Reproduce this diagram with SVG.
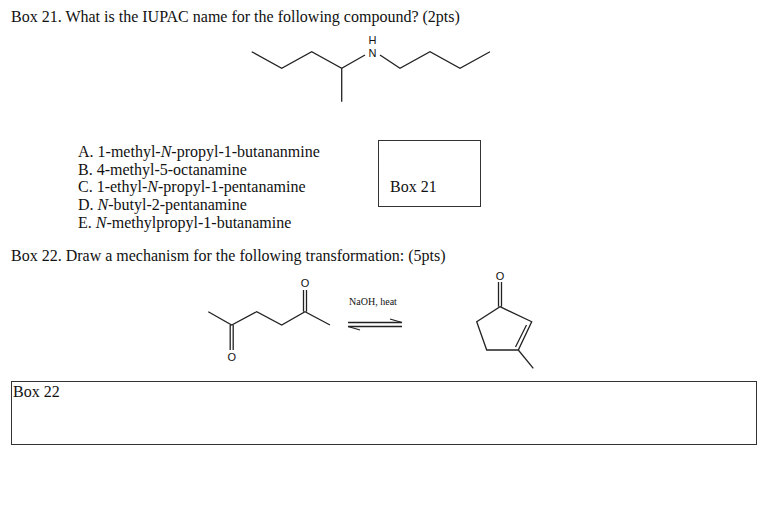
<svg xmlns="http://www.w3.org/2000/svg" width="770" height="516" viewBox="0 0 770 516">
<style>
text{font-family:"Liberation Serif",serif;fill:#111}
.t{font-size:16px}
.s{font-family:"Liberation Sans",Arial,sans-serif;font-size:11px}
.b{fill:none;stroke:#222;stroke-width:1.3}
.box{fill:none;stroke:#333;stroke-width:1}
</style>
<rect width="770" height="516" fill="#fff"/>
<text class="t" x="11" y="22">Box 21. What is the IUPAC name for the following compound? (2pts)</text>
<g id="amine">
<polyline class="b" points="251.7,51.7 281.7,68.3 311.7,51.7 341.7,68.3 365,55"/>
<line class="b" x1="341.7" y1="68.3" x2="341.7" y2="101.7"/>
<polyline class="b" points="380,55 400,68.3 430,51.7 460,68.3 490,51.7"/>
<text class="s" x="372.5" y="57" text-anchor="middle">N</text>
<text class="s" x="372.5" y="44" text-anchor="middle">H</text>
</g>
<g id="options" class="t">
<text x="78" y="157">A.  1-methyl-<tspan font-style="italic">N</tspan>-propyl-1-butananmine</text>
<text x="78" y="175">B.  4-methyl-5-octanamine</text>
<text x="78" y="192">C.  1-ethyl-<tspan font-style="italic">N</tspan>-propyl-1-pentanamine</text>
<text x="78" y="210">D.  <tspan font-style="italic">N</tspan>-butyl-2-pentanamine</text>
<text x="78" y="228">E.  <tspan font-style="italic">N</tspan>-methylpropyl-1-butanamine</text>
</g>
<g id="box21">
<rect class="box" x="378.5" y="140.5" width="102" height="66"/>
<text class="t" x="390" y="192">Box 21</text>
</g>
<text class="t" x="11" y="261">Box 22. Draw a mechanism for the following transformation: (5pts)</text>
<g id="diketone">
<polyline class="b" points="208.3,311.7 231.7,325 256.7,311.7 281.7,325 305,311.7 330,325"/>
<line class="b" x1="230.2" y1="325" x2="230.2" y2="350"/>
<line class="b" x1="233.2" y1="325" x2="233.2" y2="350"/>
<line class="b" x1="303.5" y1="311.7" x2="303.5" y2="290"/>
<line class="b" x1="306.5" y1="311.7" x2="306.5" y2="290"/>
<text class="s" x="231.7" y="361" font-size="9" text-anchor="middle">O</text>
<text class="s" x="305" y="287" font-size="9" text-anchor="middle">O</text>
</g>
<g id="connectors">
<line class="b" x1="348" y1="322.5" x2="402" y2="322.5"/>
<polyline class="b" points="390,319 402,322.5"/>
<line class="b" x1="348" y1="326.5" x2="402" y2="326.5"/>
<polyline class="b" points="360,330 348,326.5"/>
<text x="373" y="305" font-size="10" text-anchor="middle">NaOH, heat</text>
</g>
<g id="enone">
<polygon class="b" points="500,306.7 531.7,321.7 518.3,350 486.7,350 476.7,321.7"/>
<line class="b" x1="526.5" y1="325" x2="515.5" y2="347"/>
<line class="b" x1="518.3" y1="350" x2="533.3" y2="368.3"/>
<line class="b" x1="498.5" y1="306.7" x2="498.5" y2="282"/>
<line class="b" x1="501.5" y1="306.7" x2="501.5" y2="282"/>
<text class="s" x="500" y="280" font-size="9" text-anchor="middle">O</text>
</g>
<g id="box22">
<rect class="box" x="11.5" y="381.5" width="745" height="63"/>
<text class="t" x="13" y="397">Box 22</text>
</g>
</svg>
